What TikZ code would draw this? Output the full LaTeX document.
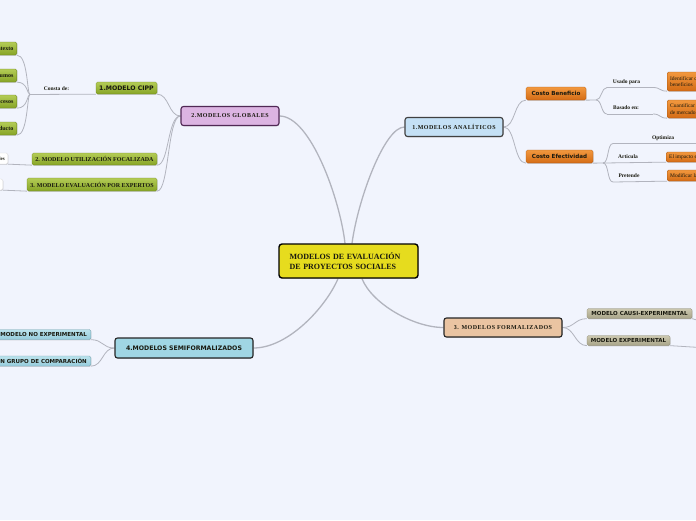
\documentclass[tikz,border=0pt]{standalone}
\usepackage{fontspec}
\setmainfont{Liberation Serif}
\setsansfont{DejaVu Sans}
\newfontfamily\spacedserif[LetterSpace=8]{Liberation Serif}
\usetikzlibrary{calc,shadows}

\definecolor{bgc}{RGB}{241,244,253}
\definecolor{connc}{RGB}{178,180,190}
\definecolor{cyel}{RGB}{230,220,30}
\definecolor{cpur}{RGB}{220,180,226}
\definecolor{cpurd}{RGB}{80,40,85}
\definecolor{cblu}{RGB}{196,224,245}
\definecolor{cpea}{RGB}{234,196,162}
\definecolor{csem}{RGB}{160,214,228}
\definecolor{cgrt}{RGB}{180,204,86}
\definecolor{cgrb}{RGB}{134,164,38}
\definecolor{cort}{RGB}{242,152,62}
\definecolor{corb}{RGB}{212,108,22}
\definecolor{ckht}{RGB}{204,200,176}
\definecolor{ckhb}{RGB}{168,164,136}
\definecolor{ctlt}{RGB}{186,226,236}
\definecolor{ctlb}{RGB}{150,204,220}
\definecolor{ctxt}{RGB}{25,25,15}

\pgfdeclarelayer{back}
\pgfdeclarelayer{edges}
\pgfsetlayers{back,edges,main}

\newcommand\mmconn[5]{\draw[#1] (#2) .. controls ($(#2)+(#4,0)$) and ($(#3)+(#5,0)$) .. (#3);}

\begin{document}
\begin{tikzpicture}[x=1pt,y=-1pt,
  conn/.style={draw=connc, line width=0.8pt},
  mconn/.style={draw=connc, line width=1.3pt},
  bx/.style={rectangle, inner sep=0pt, align=center, text=ctxt},
  shd/.style={drop shadow={shadow xshift=0.5pt, shadow yshift=-0.8pt, opacity=0.3}},
  core/.style={bx, draw=black, line width=1.4pt, rounded corners=3pt, fill=cyel,
    minimum width=139pt, minimum height=34pt, text width=118pt, align=left,
    font=\bfseries\fontsize{8}{10}\selectfont, shd},
  topic/.style={bx, line width=1.1pt, rounded corners=2.5pt, minimum height=19pt,
    font=\spacedserif\bfseries\fontsize{6}{7}\selectfont, shd},
  greenbox/.style={bx, rounded corners=1.5pt, top color=cgrt, bottom color=cgrb,
    draw=cgrb!80!black, line width=0.3pt, minimum height=12pt,
    font=\bfseries\fontsize{6}{7}\selectfont, shd},
  orbox/.style={bx, rounded corners=1.5pt, top color=cort, bottom color=corb,
    draw=corb!80!black, line width=0.3pt, minimum height=13pt,
    font=\sffamily\bfseries\fontsize{5.6}{7}\selectfont, shd},
  orleaf/.style={orbox, font=\fontsize{5.5}{6.2}\selectfont, align=left,
    anchor=west, inner xsep=3pt},
  khbox/.style={bx, rounded corners=1.5pt, top color=ckht, bottom color=ckhb,
    draw=ckhb!80!black, line width=0.3pt, minimum height=10pt,
    font=\sffamily\bfseries\fontsize{5.5}{6}\selectfont, shd},
  tlbox/.style={bx, rounded corners=1.5pt, top color=ctlt, bottom color=ctlb,
    draw=ctlb!80!black, line width=0.3pt, minimum height=10pt,
    font=\sffamily\bfseries\fontsize{5.5}{6}\selectfont, shd},
  whbox/.style={bx, fill=white, draw=black!15, line width=0.3pt, rounded corners=1.5pt,
    minimum height=11pt, font=\bfseries\fontsize{5}{6}\selectfont, anchor=east,
    inner xsep=3pt, shd},
  lab/.style={inner sep=0pt, font=\bfseries\fontsize{5.5}{6}\selectfont, text=ctxt}]

\begin{pgfonlayer}{back}
\fill[bgc] (0,0) rectangle (696,520);
\end{pgfonlayer}
\useasboundingbox (0,0) rectangle (696,520);

% central and main topics
\node[core] (c) at (348.5,261) {MODELOS DE EVALUACIÓN\\DE PROYECTOS SOCIALES};
\node[topic, fill=cpur, draw=cpurd, minimum width=98pt] (glob) at (230,116) {2.MODELOS GLOBALES};
\node[topic, fill=cblu, draw=black!75, minimum width=98pt] (ana) at (454,127) {1.MODELOS ANALÍTICOS};
\node[topic, fill=cpea, draw=black!85, minimum width=118pt] (form) at (503,327.5) {3. MODELOS FORMALIZADOS};
\node[topic, fill=csem, draw=black!85, minimum width=138pt, minimum height=20pt,
  font=\sffamily\bfseries\fontsize{6.2}{7}\selectfont] (semi) at (184,348) {4.MODELOS SEMIFORMALIZADOS};

% green branch
\node[greenbox, font=\sffamily\bfseries\fontsize{6.2}{7}\selectfont, minimum width=61pt] (cipp) at (126.5,88) {1.MODELO CIPP};
\node[greenbox, minimum width=125pt] (util) at (94.5,159) {2. MODELO UTILIZACIÓN FOCALIZADA};
\node[greenbox, minimum width=130pt, minimum height=13pt] (expe) at (92,184.5) {3. MODELO EVALUACIÓN POR EXPERTOS};
\node[greenbox, anchor=east, inner xsep=3.5pt, minimum height=13pt] (ctx) at (17,48.5) {Contexto};
\node[greenbox, anchor=east, inner xsep=3.5pt, minimum height=13pt] (ins) at (17,75.5) {Insumos};
\node[greenbox, anchor=east, inner xsep=3.5pt, minimum height=13pt] (pro) at (17,101.5) {Procesos};
\node[greenbox, anchor=east, inner xsep=3.5pt, minimum height=13pt] (prd) at (17,128.5) {Producto};
\node[whbox] (w1) at (8,158.5) {Necesidades};
\node[whbox] (w2) at (3,184.5) {Expertos};
\node[lab] (lc) at (56.5,89) {Consta de:};

% orange branch
\node[orbox, minimum width=60pt] (cb) at (556,93.5) {Costo Beneficio};
\node[orbox, minimum width=67pt] (ce) at (559.5,156.5) {Costo Efectividad};
\node[orleaf, minimum height=19pt] (id) at (667,81.5) {Identificar costos y\\beneficios};
\node[orleaf, minimum height=18pt] (cu) at (667,109) {Cuantificar a precios\\de mercado};
\node[orleaf, minimum height=10pt] (imp) at (666,157) {El impacto en los beneficiarios};
\node[orleaf, minimum height=11pt] (mod) at (667,175.5) {Modificar la situación};
\node[lab] (lu) at (626.5,82) {Usado para};
\node[lab] (lb) at (626,108) {Basado en:};
\node[lab] (lo) at (663,138.5) {Optimiza};
\node[lab] (la) at (628,157) {Articula};
\node[lab] (lp) at (629,176) {Pretende};

% khaki branch
\node[khbox, minimum width=105pt] (causi) at (639.5,313.5) {MODELO CAUSI-EXPERIMENTAL};
\node[khbox, minimum width=83pt] (exper) at (628.5,340.5) {MODELO EXPERIMENTAL};

% teal branch
\node[tlbox, anchor=east, inner xsep=4pt] (noexp) at (91,334.5) {MODELO NO EXPERIMENTAL};
\node[tlbox, anchor=east, inner xsep=4pt] (comp) at (91,361) {MODELO CON GRUPO DE COMPARACIÓN};

% junction coordinates
\coordinate (jc) at (30,94.5);
\coordinate (jb) at (596,100);
\coordinate (u1) at (607,87.5);
\coordinate (u2) at (653,87.5);
\coordinate (b1) at (607,114);
\coordinate (b2) at (653,114);
\coordinate (je) at (603,163);
\coordinate (o1) at (613,143.5);
\coordinate (oe) at (700,143.5);
\coordinate (p1) at (613,182);
\coordinate (causie) at (700,321);
\coordinate (experie) at (700,347.5);

\begin{pgfonlayer}{edges}
\draw[mconn] ($(c.north)+(-3.5,0)$) .. controls ($(c.north)+(-8.5,-44)$) and ($(glob.east)+(31,0)$) .. (glob.east);
\draw[mconn] ($(c.north)+(3.5,0)$) .. controls ($(c.north)+(9.5,-44)$) and ($(ana.west)+(-20,0)$) .. (ana.west);
\draw[mconn] ($(c.south)+(13.5,0)$) .. controls ($(c.south)+(23.5,25)$) and ($(form.west)+(-30,0)$) .. (form.west);
\draw[mconn] ($(c.south)+(-10.5,0)$) .. controls ($(c.south)+(-22.5,28)$) and ($(semi.east)+(35,0)$) .. (semi.east);

\mmconn{conn}{glob.west}{cipp.south east}{-12}{12}
\mmconn{conn}{glob.west}{util.south east}{-13}{12}
\mmconn{conn}{glob.west}{expe.south east}{-13}{12}
\draw[conn] (cipp.south west) -- (jc);
\mmconn{conn}{jc}{ctx.south east}{-3}{11}
\mmconn{conn}{jc}{ins.south east}{-3}{11}
\mmconn{conn}{jc}{pro.south east}{-3}{11}
\mmconn{conn}{jc}{prd.south east}{-3}{11}
\draw[conn] (util.south west) -- (w1.south east);
\draw[conn] (expe.south west) -- (w2.south east);

\mmconn{conn}{ana.east}{cb.south west}{12}{-12}
\mmconn{conn}{ana.east}{ce.south west}{12}{-12}
\draw[conn] (cb.south east) -- (jb);
\mmconn{conn}{jb}{u1}{6}{-6}
\draw[conn] (u1) -- (u2);
\mmconn{conn}{u2}{id.south west}{8}{-8}
\mmconn{conn}{jb}{b1}{6}{-6}
\draw[conn] (b1) -- (b2);
\mmconn{conn}{b2}{cu.south west}{8}{-8}
\draw[conn] (ce.south east) -- (imp.south west);
\mmconn{conn}{je}{o1}{6}{-6}
\draw[conn] (o1) -- (oe);
\mmconn{conn}{je}{p1}{6}{-6}
\draw[conn] (p1) -- (mod.south west);

\mmconn{conn}{form.east}{causi.south west}{12}{-12}
\mmconn{conn}{form.east}{exper.south west}{12}{-12}
\draw[conn] (causi.south east) -- (causie);
\draw[conn] (exper.south east) -- (experie);

\mmconn{conn}{semi.west}{noexp.south east}{-12}{12}
\mmconn{conn}{semi.west}{comp.south east}{-12}{12}
\end{pgfonlayer}
\end{tikzpicture}
\end{document}
